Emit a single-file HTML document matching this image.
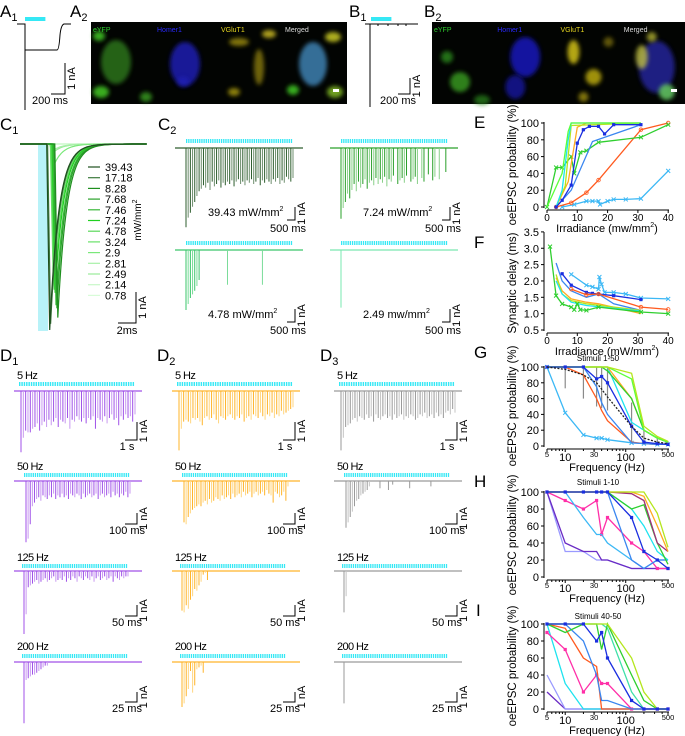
<!DOCTYPE html>
<html><head><meta charset="utf-8"><style>
html,body{margin:0;padding:0;background:#fff;}
svg{display:block;font-family:"Liberation Sans",Arial,sans-serif;}
</style></head><body>
<svg id="fig" width="685" height="736" viewBox="0 0 685 736" xmlns="http://www.w3.org/2000/svg">
<rect x="0" y="0" width="685" height="736" fill="#fff"/>
<defs><filter id="bl" x="-50%" y="-50%" width="200%" height="200%"><feGaussianBlur stdDeviation="2"/></filter></defs>
</svg>
<script>
const NS='http://www.w3.org/2000/svg';
const svg=document.getElementById('fig');
function mk(tag,attrs,parent){const e=document.createElementNS(NS,tag);for(const k in attrs)e.setAttribute(k,attrs[k]);(parent||svg).appendChild(e);return e;}
function txt(s,x,y,size,attrs,parent){const a=Object.assign({x:x,y:y,'font-size':size,fill:'#000'},attrs||{});const t=mk('text',a,parent);t.textContent=s;return t;}

/* ---------- data: E (irradiance vs probability) ---------- */
const eLightBlueX=[5,9,13,15,17,17.5,20,22,26,31,40];
const eLightBlueY=[0,3,7,7,7,3,7,9,9,10,43];
const eRedX=[3,8,13,17,31,40];
const eRedY=[0,5,17,32,92,100];
const eGreenX=[0,3,5,8,9,11,13,17,31,40];
const eGreenY=[0,47,47,60,40,65,67,77,83,98];
const eDBlueX=[3,5,8,10,12,14,17,19,22,31];
const eDBlueY=[0,8,26,76,92,96,96,87,98,98];
const eBlueX=[3,8,15,31];
const eBlueY=[0,20,78,98];
const eOrangeX=[3,7,10,13,31];
const eOrangeY=[0,30,95,100,100];
const eYGreenX=[3,6,8,31];
const eYGreenY=[0,25,97,100];
const eCyanX=[3,5,7,8,31];
const eCyanY=[0,20,80,100,100];
const eLimeX=[0,5,7,8,31];
const eLimeY=[0,40,90,100,100];
const eYTicks=[0,20,40,60,80,100];
const irrTicks=[0,10,20,30,40];
/* ---------- data: F (synaptic delay) ---------- */
const fLightBlueX=[8,13,15,17,17.3,18,19,22,26,31,40];
const fLightBlueY=[2.2,1.87,1.82,1.75,2.12,1.9,1.65,1.65,1.6,1.48,1.45];
const fDBlueX=[5,8,13,15,17,22,31];
const fDBlueY=[2.22,1.87,1.65,1.62,1.6,1.55,1.43];
const fBlueX=[3,5,8,13,17,22,31];
const fBlueY=[2.55,2.0,1.7,1.5,1.6,1.3,1.1];
const fRedX=[8,13,17,31,40];
const fRedY=[1.75,1.58,1.6,1.2,1.13];
const fGreenX=[1,3,5,8,9,10,11,13,17,31,40];
const fGreenY=[3.05,1.55,1.3,1.2,1.12,1.3,1.12,1.1,1.2,1.05,1.0];
const fOrangeX=[3,5,8,13,17,31];
const fOrangeY=[2.1,1.7,1.45,1.35,1.3,1.0];
const fYGreenX=[3,5,8,13,31];
const fYGreenY=[2.2,1.6,1.4,1.3,1.1];
const fCyanX=[3,5,8,13,31];
const fCyanY=[2.0,1.6,1.35,1.25,1.08];
const fYTicks=[0.5,1.0,1.5,2.0,2.5,3.0,3.5];
/* ---------- data: G/H/I (frequency) ---------- */
const freqs=[5,10,20,33,40,50,125,200,333,500];
const gMean=[100,97,90,80,72,62,25,10,5,3];
const gErrLo=[100,73,60,50,48,45,5,2,1,1];
const gErrHi=[100,100,100,100,100,100,55,22,12,6];
const gLightBlue=[100,42,14,10,10,8,4,3,2,2];
const gRed=[100,100,90,60,45,32,5,3,2,2];
const gBlue=[100,100,100,75,55,40,4,3,2,2];
const gDBlue=[100,100,100,85,88,80,25,5,3,2];
const gCyan=[100,100,100,100,100,100,30,20,10,5];
const gOrange=[100,100,100,100,100,100,60,20,10,5];
const gGreen=[100,100,100,100,100,95,60,20,10,5];
const gYGreen=[100,100,100,100,100,100,92,25,12,6];
const gLime=[100,100,100,100,100,100,85,20,10,5];
const hDBlue=[100,100,100,100,100,100,70,30,20,10];
const hBlue=[100,100,100,100,100,100,20,10,20,20];
const hPurple=[100,40,30,30,20,20,10,10,10,10];
const hLPurple=[100,30,30,20,20,20,10,10,10,10];
const hMagenta=[100,90,80,90,50,70,40,30,10,10];
const hLightBlue=[100,100,70,50,50,40,20,10,20,20];
const hCyan=[100,100,100,100,100,100,80,60,30,20];
const hGreen=[100,100,100,100,100,100,80,85,40,15];
const hOrange=[100,100,100,100,100,100,100,95,60,30];
const hYGreen=[100,100,100,100,100,100,100,100,75,35];
const hMaroon=[100,100,100,100,100,100,98,90,40,30];
const iDBlue=[100,100,100,80,90,60,10,0,0,0];
const iBlue=[100,100,80,40,10,10,0,0,0,0];
const iRed=[100,95,60,50,0,0,0,0,0,0];
const iMagenta=[90,70,20,40,30,30,0,0,0,0];
const iCyan=[100,30,0,0,0,0,0,0,0,0];
const iLPurple=[40,0,0,0,0,0,0,0,0,0];
const iPurple=[20,0,0,0,0,0,0,0,0,0];
const iGreen=[100,90,100,100,70,100,40,10,0,0];
const iYGreen=[100,100,100,100,100,100,60,20,0,0];
const iTeal=[100,100,100,100,100,95,20,0,0,0];
const freqTicks=[5,10,30,100,500];

/* ---------- data: traces (amplitudes in nA) ---------- */
const c1Irr=['39.43','17.18','8.28','7.68','7.46','7.24','4.78','3.24','2.9','2.81','2.49','2.14','0.78'];
const c1Peak=[6.0,5.8,5.6,5.3,5.2,4.8,4.7,4.5,0.6,0.2,0.3,0,0];
const c1Lat=[1.3,1.4,2.2,2.1,2.0,1.9,1.8,1.7,1.9,1.7,1.6,1.5,1.5];
const c2A=[6.6,5.8,5.4,4.9,4.5,4.0,3.6,3.4,3.1,3.3,2.9,3.5,2.8,3.2,3.0,2.7,3.3,2.9,3.1,2.8,3.0,2.7,3.2,2.8,2.6,3.0,2.8,3.1,2.7,2.9,2.6,3.0,2.8,2.5,3.1,2.7,2.9,2.6,2.8,3.0,2.6,2.8,2.5,3.0,2.7,2.9,2.4,2.6,2.8,2.5];
const c2B=[5.9,5.0,4.5,3.8,4.2,3.5,3.0,3.6,2.8,3.3,3.0,2.6,3.4,2.9,2.7,3.1,2.5,3.0,2.6,2.9,2.4,3.2,2.6,2.8,2.3,0,3.0,2.7,2.5,2.9,2.3,0,2.8,2.6,2.4,3.0,0,2.5,2.8,0,2.2,0,2.7,2.4,0,2.6,0,0,2.0,0];
const c2C=[5.0,4.5,4.0,3.7,3.4,3.0,2.5,0,0,0,0,0,0,0,0,0,0,0,0,2.9,0,0,0,0,0,0,0,0,0,0,0,0,0,0,0,2.9];
const c2D=[4.8];
const d1f5=[3.4,2.6,2.2,2.3,2.3,2.1,2.0,1.8,2.2,1.9,1.7,2.0,1.6,1.9,1.7,1.5,2.0,1.6,1.7,1.8,1.5,2.1,1.6,1.7,1.4,1.6,1.7,1.5,1.8,1.5,1.6,1.4,2.1,1.5,1.6,1.7,1.4,1.8,1.5,1.3,1.6,1.5,1.9,1.4,1.6,1.3,1.5,1.4,1.7,1.3];
const d1f50=[3.4,3.2,2.4,1.4,1.2,1.0,0.9,1.1,0.8,0.9,1.0,0.8,0.9,0.7,1.0,0.8,0.9,0.7,0.9,0.8,1.0,0.7,0.8,0.9,0.7,0.8,1.0,0.7,0.9,0.8,0.7,0.9,0.8,0.7,1.0,0.8,0.7,0.9,0.8,0.7,0.9,0.6,0.8,0.7,0.9,0.7,0.8,0.6,0.9,0.7];
const d1f125=[3.5,2.4,0.9,0.8,0.7,0.6,0.5,0.7,0.6,0.5,0.4,0.6,0.5,0.4,0.3,0.6,0.5,0.4,0.5,0.3,0.6,0.4,0.5,0.3,0.4,0.6,0.3,0.4,0.5,0.3,0.4,0.5,0.3,0.6,0.4,0.3,0.5,0.4,0.3,0.5,0.4,0.3,0.6,0.3,0.4,0.5,0.3,0.4,0.3,0.3];
const d1f200=[3.4,1.0,0.9,0.8,0.7,0.7,0.6,0.5,0.4,0.3,0.2,0.2];
const d2f5=[3.3,2.1,1.7,1.6,1.7,1.8,1.5,1.6,1.5,1.7,1.9,1.5,1.4,1.6,1.5,1.3,1.6,1.8,1.4,1.5,1.6,1.4,1.3,1.5,1.6,1.4,1.5,1.3,1.7,1.5,1.4,1.6,1.3,1.4,1.5,1.2,1.4,1.6,1.3,1.4,1.2,1.5,1.3,1.4,1.1,1.3,1.2,1.1,1.0,0.9];
const d2f50=[2.3,2.4,2.0,1.8,1.6,1.5,1.4,1.3,1.4,1.2,1.1,1.3,1.0,1.2,1.1,0.9,1.0,1.1,0.8,1.0,0.9,0.8,1.0,0.7,0.9,0.8,0.7,0.9,0.6,0.8,0.7,0.6,0.9,0.7,0.6,0.8,0.7,0.6,0.8,0.5,0.7,0.8,1.2,0.6,0.7,0.9,0.8,0.6,1.1,0.3];
const d2f125=[2.2,2.3,1.9,2.1,1.6,1.4,1.0,1.1,0.8,0.6,0.2,0.1,0.5];
const d2f200=[2.5,2.3,1.9,1.5,0.5,1.7,1.3,0.4,0.3,0.2,0.6];
const d3f5=[3.3,2.6,2.0,1.9,1.8,1.6,1.5,1.7,1.4,1.5,1.6,1.3,1.5,1.4,1.7,1.3,1.5,1.6,1.4,1.3,1.5,1.4,1.6,1.3,1.5,1.4,1.3,1.6,1.4,1.5,1.3,1.4,1.6,1.5,1.3,1.4,1.2,1.5,1.4,1.3,1.5,1.2,1.4,1.3,1.5,1.2,1.1,1.3,1.0,1.2];
const d3f50=[2.6,2.3,2.0,1.7,1.4,1.1,1.0,0.8,0.7,0.6,0.5,0.3,0,0,0,0,0.4,0,0,0,0.5,0,0.2,0,0,0,0,0,0,0,0.4,0,0,0,0,0,0,0,0,0,0.3];
const d3f125=[2.3,1.4];
const d3f200=[2.3];

/* ---------- helpers ---------- */
function panelLabel(letter,sub,x,y){
  const t=mk('text',{x:x,y:y,'font-size':17,fill:'#000'});
  
  
  t.textContent=letter;
  if(sub){const s=mk('tspan',{'font-size':11,dy:4},t);s.textContent=sub;}
}
function cyanBar(x0,x1,y,n,name){
  const sp=(x1-x0)/Math.max(n-1,1);
  const l=mk('line',{x1:x0,y1:y,x2:x1,y2:y,stroke:'#35e8f5','stroke-width':4,'stroke-dasharray':(sp*0.6)+' '+(sp*0.4)});
  
  
}
function scaleBar(xv,yTop,yBot,xLeft,vLab,hLab,hx,hy,name){
  const g=mk('g',{});
  
  
  mk('path',{d:`M${xLeft},${yBot}H${xv}V${yTop}`,stroke:'#000','stroke-width':1,fill:'none'},g);
  const v=txt(vLab,0,0,11,{transform:`translate(${xv+10},${(yTop+yBot)/2}) rotate(-90)`,'text-anchor':'middle'},g);
  
  
  const h=txt(hLab,hx,hy,11,{'text-anchor':'middle'},g);
  
  
}
function trace(name,x0,x1,n,base,amps,pxnA,colA,colB,xs,xe){
  const sp=(x1-x0)/(n-1);
  const g=mk('g',{});
  
  
  let dA='',dB='';
  amps.forEach((a,i)=>{const x=(x0+i*sp).toFixed(2);const s=`M${x},${base}v${(a*pxnA).toFixed(1)}`;if(i%2===0)dA+=s;else dB+=s;});
  const bl=mk('line',{x1:xs,y1:base,x2:xe,y2:base,stroke:colA,'stroke-width':1.2},g);
  
  
  const pa=mk('path',{d:dA||'M0,0',stroke:colA,'stroke-width':1,fill:'none'},g);
  
  
  const pb=mk('path',{d:dB||'M0,0',stroke:colB,'stroke-width':1,fill:'none'},g);
  
  
}

/* ---------- A1 / B1 ---------- */
panelLabel('A','1',0,17);
panelLabel('A','2',70,17);
panelLabel('B','1',349,17);
panelLabel('B','2',424,17);
cyanBar(25,59,19,1,'a1-light-bar');
const a1=mk('path',{d:'M17,24H25V110M25,50H57Q59,50 60,35Q61,25 64,24H71',stroke:'#000','stroke-width':1,fill:'none'});


scaleBar(65,63,94,51,'1 nA','200 ms',50,104,'a1-scale-bar');
cyanBar(371,405,19,1,'b1-light-bar');
const b1=mk('path',{d:'M365,24H418M370,24V107M378,24v2M388,24v2M398,24v2M406,24v2',stroke:'#000','stroke-width':1,fill:'none'});


scaleBar(410,78,94,398,'1 nA','200 ms',398,104,'b1-scale-bar');

/* ---------- microscopy images ---------- */
function micro(x0,name,blobSets){
  const g=mk('g',{});
  
  
  const w=(name==='a2-image-panel')?256:253;
  mk('rect',{x:x0,y:22,width:w,height:82,fill:'#020402'},g);
  const labs=['eYFP','Homer1','VGluT1','Merged'];
  const cols=['#2ecc2e','#2a2aff','#e8d820','#dddddd'];
  const pw=w/4;
  blobSets.forEach((bs,pi)=>{bs.forEach(b=>{mk('ellipse',{cx:x0+pi*pw+b[0],cy:22+b[1],rx:b[2],ry:b[3],fill:b[4],opacity:b[5],filter:'url(#bl)'},g);});});
  labs.forEach((l,i)=>{const t=txt(l,x0+2+i*pw,32,7,{fill:cols[i]},g);
    
    });
  mk('rect',{x:x0+w-14,y:89,width:6,height:3,fill:'#fff'},g);
}
micro(91,'a2-image-panel',[
 [[25,40,15,22,'#2f7a1a',0.8],[8,14,6,5,'#3cbf20',0.9],[10,70,8,6,'#40c020',0.9],[55,75,6,5,'#3aa020',0.8]],
 [[30,42,15,22,'#1a1aa8',0.9],[28,60,6,5,'#2020c0',0.6]],
 [[20,20,10,4,'#a09010',0.8],[40,45,5,18,'#8a7c10',0.8],[15,70,6,4,'#b0a010',0.8],[50,12,7,4,'#c0b020',0.9]],
 [[30,42,14,22,'#3a7aa8',0.9],[50,15,8,5,'#c0c020',0.9],[52,70,8,6,'#7ab020',0.9],[10,68,6,5,'#3cbf20',0.9]]
]);
micro(432,'b2-image-panel',[
 [[15,35,6,6,'#2a8a1a',0.8],[28,60,10,10,'#3aa020',0.8],[50,78,8,5,'#2a8a1a',0.7]],
 [[30,35,15,20,'#1818b0',0.9],[20,65,10,12,'#1414a0',0.8]],
 [[15,30,6,12,'#c8b818',0.9],[35,55,8,8,'#b0a010',0.9],[25,75,5,5,'#a09010',0.8],[50,20,5,5,'#8a7c10',0.7]],
 [[35,45,18,26,'#202090',0.9],[20,35,6,12,'#c0c040',0.8],[45,70,8,8,'#60c060',0.9],[30,15,5,5,'#b0b030',0.8]]
]);

/* ---------- C1 ---------- */
panelLabel('C','1',0,130);
const c1Rect=mk('rect',{x:38,y:143,width:10,height:188,fill:'#b8f2f8'});


const c1Cols=['#1f4f1f','#3c7a3c','#1e8f1e','#2aa22a','#3ab83a','#20d020','#5ad85a','#6ae06a','#7ae87a','#a8f0a8','#9aeb9a','#c8f8c8','#d8fcd8'];
const c1Base=144, c1PxNA=31, c1PxMs=9, c1Onset=38;
for(let i=c1Irr.length-1;i>=0;i--){
  const xp=c1Onset+c1Lat[i]*c1PxMs, A=c1Peak[i]*c1PxNA;
  let d=`M20,${c1Base}H${xp-3}L${xp},${c1Base+A}`;
  for(let x=xp+1;x<=147;x+=1){d+=`L${x},${(c1Base+A*Math.exp(-(x-xp)/9)).toFixed(1)}`;}
  const p=mk('path',{d:d,stroke:c1Cols[i],'stroke-width':1.2,fill:'none'});
  
  
}
c1Irr.forEach((v,i)=>{
  const y=171+i*10.7;
  const l=mk('line',{x1:88,y1:y-4,x2:100,y2:y-4,stroke:c1Cols[i],'stroke-width':1.2});
  
  
  const t=txt(v,105,y,11);
  
  
});
const c1Unit=mk('text',{transform:'translate(141,220) rotate(-90)','text-anchor':'middle','font-size':10});


c1Unit.textContent='mW/mm';
const c1us=mk('tspan',{'font-size':7,dy:-4},c1Unit);c1us.textContent='2';
scaleBar(136,292,323,118,'1 nA','2ms',127,334,'c1-scale-bar');

/* ---------- C2 ---------- */
panelLabel('C','2',158,130);
const c2Set=[[0,0,c2A,'39.43 mW/mm','#2e5e2e','#6f8f6f'],[155,0,c2B,'7.24 mW/mm','#2aa02a','#8ad08a'],[0,102,c2C,'4.78 mW/mm','#3ac56a','#7adc9a'],[155,102,c2D,'2.49 mw/mm','#7ae8b0','#a8f0c8']];
c2Set.forEach((s,k)=>{
  const dx=s[0],dy=s[1];
  cyanBar(186+dx,293+dx,141+dy,50,'c2-light-bar-'+k);
  trace('c2-trace-'+k,186+dx,293+dx,50,148+dy,s[2],12,s[4],s[5],175+dx,303+dx);
  const t=txt(s[3],208+dx,216+dy,11);
  
  
  const sp=mk('tspan',{'font-size':7,dy:-5},t);sp.textContent='2';
  scaleBar(295+dx,207+dy,220+dy,287+dx,'1 nA','500 ms',288+dx,232+dy,'c2-scale-bar-'+k);
});

/* ---------- D ---------- */
panelLabel('D','1',0,361);
panelLabel('D','2',157,361);
panelLabel('D','3',320,361);
const dRows=[['5 Hz',375,384,391,422,440,'1 s'],['50 Hz',466,475,481,513,524,'100 ms'],['125 Hz',557,566,571,605,616,'50 ms'],['200 Hz',646,656,662,692,702,'25 ms']];
const dData=[[d1f5,d1f50,d1f125,d1f200],[d2f5,d2f50,d2f125,d2f200],[d3f5,d3f50,d3f125,d3f200]];
const dCols=[['#a052e8','#c89af0'],['#ffb42a','#ffd680'],['#9a9a9a','#c4c4c4']];
const dOff=[0,158,320];
const dBarX=[[19,135],[24,130],[22,128],[22,128]];
dOff.forEach((ox,c)=>{
  dRows.forEach((r,ri)=>{
    const t=txt(r[0],17+ox,r[1]+4,11,{'letter-spacing':'-0.6'});
    
    
    const bx=dBarX[ri];
    cyanBar(bx[0]+ox,bx[1]+ox,r[2],50,`d${c+1}-light-bar-${ri}`);
    trace(`d${c+1}-trace-${ri}`,bx[0]+2+ox,bx[1]+ox,50,r[3],dData[c][ri],18,dCols[c][0],dCols[c][1],14+ox,142+ox);
    scaleBar(137+ox,r[4],r[5],125+ox,'1 nA',r[6],127+ox,r[5]+10,`d${c+1}-scale-bar-${ri}`);
  });
});

/* ---------- right column charts ---------- */
panelLabel('E','',474,128);
panelLabel('F','',474,248);
panelLabel('G','',474,358);
panelLabel('H','',474,487);
panelLabel('I','',476,616);

function linX(v){return 547+v*3.03;}
function logX(f){return 547+Math.log10(f/5)*60.5;}
function makeY(y0,pxPer,vmin){return v=>y0-(v-vmin)*pxPer;}

function axes(name,yTop,yBot,xAxisY,yTicks,yFn,yFmt,xTicks,xFn,xTickFmt,xTitle,yTitle,yTitleCy,minor){
  const g=mk('g',{});
  
  
  mk('line',{x1:544,y1:yTop,x2:544,y2:yBot,stroke:'#000','stroke-width':1},g);
  mk('line',{x1:547,y1:xAxisY,x2:669,y2:xAxisY,stroke:'#000','stroke-width':1},g);
  yTicks.forEach(v=>{const y=yFn(v);mk('line',{x1:541,y1:y,x2:544,y2:y,stroke:'#000'},g);
    const t=txt(yFmt(v),539,y+4,11,{'text-anchor':'end'},g);
    
    });
  if(minor){[6,7,8,9,20,30,40,50,60,70,80,90,200,300,400].forEach(f=>{const x=logX(f);mk('line',{x1:x,y1:xAxisY,x2:x,y2:xAxisY+2,stroke:'#000'},g);});}
  xTicks.forEach(v=>{const x=xFn(v);mk('line',{x1:x,y1:xAxisY,x2:x,y2:xAxisY+3,stroke:'#000'},g);
    const big=!minor||v===10||v===100;
    const t=txt(xTickFmt(v),x,xAxisY+(minor?(big?12:8):11),big?(minor?11:10):7.5,{'text-anchor':'middle'},g);
    
    });
  const xt=txt(xTitle[0],607,xAxisY+(minor?22:22),11,{'text-anchor':'middle'},g);
  
  
  if(xTitle[1]){const s=mk('tspan',{'font-size':7,dy:-5},xt);s.textContent='2';const s2=mk('tspan',{dy:5},xt);s2.textContent=')';}
  const yt=mk('text',{transform:`translate(516,${yTitleCy}) rotate(-90)`,'text-anchor':'middle','font-size':11.5},g);
  
  
  yt.textContent=yTitle;
}
function series(name,xs,ys,xFn,yFn,color,marker,dash){
  const g=mk('g',{});
  
  
  const pts=xs.map((x,i)=>[xFn(x),yFn(ys[i])]);
  const l=mk('polyline',{points:pts.map(p=>p[0].toFixed(1)+','+p[1].toFixed(1)).join(' '),stroke:color,'stroke-width':1.3,fill:'none'},g);
  if(dash)l.setAttribute('stroke-dasharray',dash);
  pts.forEach(p=>{
    if(marker==='x'){mk('path',{d:`M${p[0]-2},${p[1]-2}l4,4m0,-4l-4,4`,stroke:color,'stroke-width':1},g);}
    else if(marker==='o'){mk('circle',{cx:p[0],cy:p[1],r:1.8,stroke:color,fill:'none','stroke-width':0.8},g);}
    else if(marker==='s'){mk('rect',{x:p[0]-1.6,y:p[1]-1.6,width:3.2,height:3.2,fill:color},g);}
  });
}
const C={lb:'#3cb8f5',red:'#ff5a1f',grn:'#2fcf2f',dblue:'#1a2ee0',blue:'#3a86f0',orng:'#ffaa22',ygrn:'#b5e61d',cyan:'#1ee3ef',lime:'#5cff3a',mag:'#ff2fa8',purp:'#6a2bc4',lpurp:'#9a9aff',teal:'#3fe0a8',maroon:'#a0307a'};

/* E */
const yE=makeY(207,0.84,0);
axes('chart-e',122,208,210,eYTicks,yE,v=>String(v),irrTicks,linX,v=>String(v),['Irradiance (mw/mm',true],'oeEPSC probability (%)',165,false);
series('e-series-light-blue',eLightBlueX,eLightBlueY,linX,yE,C.lb,'x');
series('e-series-red',eRedX,eRedY,linX,yE,C.red,'o');
series('e-series-green',eGreenX,eGreenY,linX,yE,C.grn,'x');
series('e-series-blue',eBlueX,eBlueY,linX,yE,C.blue,'');
series('e-series-orange',eOrangeX,eOrangeY,linX,yE,C.orng,'');
series('e-series-yellow-green',eYGreenX,eYGreenY,linX,yE,C.ygrn,'');
series('e-series-cyan',eCyanX,eCyanY,linX,yE,C.cyan,'');
series('e-series-lime',eLimeX,eLimeY,linX,yE,C.lime,'');
series('e-series-dark-blue',eDBlueX,eDBlueY,linX,yE,C.dblue,'s');

/* F */
const yF=makeY(330,32.7,0.5);
axes('chart-f',232,331,333,fYTicks,yF,v=>v.toFixed(1),irrTicks,linX,v=>String(v),['Irradiance (mW/mm',true],'Synaptic delay (ms)',283,false);
series('f-series-light-blue',fLightBlueX,fLightBlueY,linX,yF,C.lb,'x');
series('f-series-dark-blue',fDBlueX,fDBlueY,linX,yF,C.dblue,'s');
series('f-series-blue',fBlueX,fBlueY,linX,yF,C.blue,'');
series('f-series-red',fRedX,fRedY,linX,yF,C.red,'o');
series('f-series-orange',fOrangeX,fOrangeY,linX,yF,C.orng,'');
series('f-series-yellow-green',fYGreenX,fYGreenY,linX,yF,C.ygrn,'');
series('f-series-cyan',fCyanX,fCyanY,linX,yF,C.cyan,'');
series('f-series-green',fGreenX,fGreenY,linX,yF,C.grn,'x');

/* G */
const yG=makeY(446,0.79,0);
const gt=txt('Stimuli 1-50',598,361,8,{'text-anchor':'middle'});


axes('chart-g',366,447,449,eYTicks,yG,v=>String(v),freqTicks,logX,v=>String(v),['Frequency (Hz)',false],'oeEPSC probability (%)',406,true);
freqs.forEach((f,i)=>{if(gErrHi[i]>gErrLo[i]){const e=mk('line',{x1:logX(f),y1:yG(gErrHi[i]),x2:logX(f),y2:yG(gErrLo[i]),stroke:'#8a8a8a','stroke-width':1.2});
  
  }});
series('g-series-light-blue',freqs,gLightBlue,logX,yG,C.lb,'x');
series('g-series-red',freqs,gRed,logX,yG,C.red,'');
series('g-series-blue',freqs,gBlue,logX,yG,C.blue,'');
series('g-series-cyan',freqs,gCyan,logX,yG,C.cyan,'');
series('g-series-orange',freqs,gOrange,logX,yG,C.orng,'');
series('g-series-green',freqs,gGreen,logX,yG,C.grn,'');
series('g-series-lime',freqs,gLime,logX,yG,C.lime,'');
series('g-series-yellow-green',freqs,gYGreen,logX,yG,C.ygrn,'');
series('g-series-dark-blue',freqs,gDBlue,logX,yG,C.dblue,'s');
series('g-series-mean',freqs,gMean,logX,yG,'#222','','2 1.5');

/* H */
const yH=makeY(577,0.85,0);
const ht=txt('Stimuli 1-10',598,485,8,{'text-anchor':'middle'});


axes('chart-h',491,578,580,eYTicks,yH,v=>String(v),freqTicks,logX,v=>String(v),['Frequency (Hz)',false],'oeEPSC probability (%)',535,true);
series('h-series-light-purple',freqs,hLPurple,logX,yH,C.lpurp,'');
series('h-series-purple',freqs,hPurple,logX,yH,C.purp,'');
series('h-series-magenta',freqs,hMagenta,logX,yH,C.mag,'s');
series('h-series-light-blue',freqs,hLightBlue,logX,yH,C.lb,'');
series('h-series-blue',freqs,hBlue,logX,yH,C.blue,'');
series('h-series-cyan',freqs,hCyan,logX,yH,C.cyan,'');
series('h-series-green',freqs,hGreen,logX,yH,C.grn,'');
series('h-series-maroon',freqs,hMaroon,logX,yH,C.maroon,'');
series('h-series-orange',freqs,hOrange,logX,yH,C.orng,'');
series('h-series-yellow-green',freqs,hYGreen,logX,yH,C.ygrn,'');
series('h-series-dark-blue',freqs,hDBlue,logX,yH,C.dblue,'s');

/* I */
const yI=makeY(709,0.85,0);
const it=txt('Stimuli 40-50',598,619,8,{'text-anchor':'middle'});


axes('chart-i',623,710,712,eYTicks,yI,v=>String(v),freqTicks,logX,v=>String(v),['Frequency (Hz)',false],'oeEPSC probability (%)',666,true);
series('i-series-purple',freqs,iPurple,logX,yI,C.purp,'');
series('i-series-light-purple',freqs,iLPurple,logX,yI,C.lpurp,'');
series('i-series-cyan',freqs,iCyan,logX,yI,C.cyan,'');
series('i-series-magenta',freqs,iMagenta,logX,yI,C.mag,'s');
series('i-series-red',freqs,iRed,logX,yI,C.red,'');
series('i-series-blue',freqs,iBlue,logX,yI,C.blue,'');
series('i-series-teal',freqs,iTeal,logX,yI,C.teal,'');
series('i-series-green',freqs,iGreen,logX,yI,C.grn,'');
series('i-series-yellow-green',freqs,iYGreen,logX,yI,C.ygrn,'');
series('i-series-dark-blue',freqs,iDBlue,logX,yI,C.dblue,'s');
</script>
</body></html>
